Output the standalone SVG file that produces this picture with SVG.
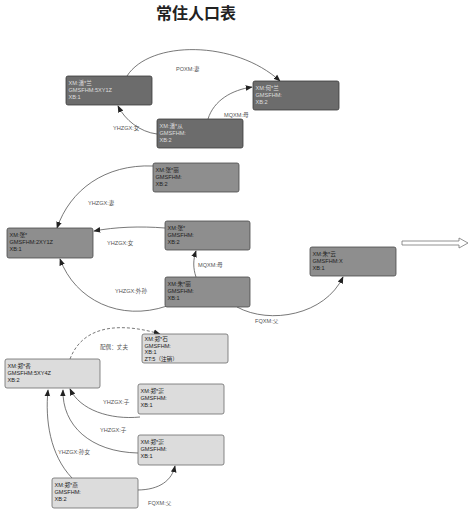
<svg xmlns="http://www.w3.org/2000/svg" width="474" height="512" viewBox="0 0 474 512">
<style>
.t{font-family:"Liberation Sans","Noto Sans CJK SC",sans-serif;font-size:5.6px;fill:#222}
.td{font-family:"Liberation Sans","Noto Sans CJK SC",sans-serif;font-size:5.6px;fill:#ddd}
.lb{font-family:"Liberation Sans","Noto Sans CJK SC",sans-serif;font-size:5.6px;fill:#555}
.dk{fill:#6c6c6c;stroke:#3a3a3a;stroke-width:0.8}
.md{fill:#8e8e8e;stroke:#4a4a4a;stroke-width:0.8}
.lt{fill:#dcdcdc;stroke:#6a6a6a;stroke-width:0.8}
.c{fill:none;stroke:#555;stroke-width:0.8;marker-end:url(#ah)}
.cd{fill:none;stroke:#555;stroke-width:0.8;stroke-dasharray:3,2;marker-end:url(#ah)}
</style>
<defs>
<marker id="ah" viewBox="0 0 10 10" refX="9" refY="5" markerWidth="7" markerHeight="7" orient="auto" markerUnits="userSpaceOnUse">
<path d="M0,1 L10,5 L0,9 z" fill="#222"/>
</marker>
</defs>
<rect width="474" height="512" fill="#fff"/>
<text x="196" y="19" text-anchor="middle" style="font-family:'Noto Sans CJK SC',sans-serif;font-size:16px;font-weight:bold;fill:#222">常住人口表</text>

<g id="connectors">
<path class="c" d="M127,76 C150,40 235,40 280,81"/>
<path class="c" d="M208,119 C214,100 232,90 252,87"/>
<path class="c" d="M157,134 C140,132 125,120 118,106"/>
<path class="c" d="M153,166 C105,164 70,190 57,228"/>
<path class="c" d="M165,228 C140,226 115,227 94,231"/>
<path class="c" d="M196,277 C193,268 193,260 196,251"/>
<path class="c" d="M167,306 C120,322 75,300 60,259"/>
<path class="c" d="M237,307 C270,325 325,315 343,277"/>
<path class="cd" d="M70,359 C85,320 130,325 160,334"/>
<path class="c" d="M140,417 C110,420 80,410 70,389"/>
<path class="c" d="M138,453 C90,452 62,425 63,390"/>
<path class="c" d="M72,478 C50,455 45,420 48,390"/>
<path class="c" d="M137,490 C160,490 172,480 175,466"/>
</g>

<g id="labels">
<text class="lb" x="176" y="71">POXM:妻</text>
<text class="lb" x="224" y="117">MQXM:母</text>
<text class="lb" x="113" y="130">YHZGX:女</text>
<text class="lb" x="88" y="205">YHZGX:妻</text>
<text class="lb" x="107" y="245">YHZGX:女</text>
<text class="lb" x="198" y="267">MQXM:母</text>
<text class="lb" x="115" y="293">YHZGX:外孙</text>
<text class="lb" x="255" y="323">FQXM:父</text>
<text class="lb" x="100" y="349">配偶：丈夫</text>
<text class="lb" x="103" y="404">YHZGX:子</text>
<text class="lb" x="100" y="432">YHZGX:子</text>
<text class="lb" x="58" y="454">YHZGX:孙女</text>
<text class="lb" x="148" y="505">FQXM:父</text>
</g>

<g id="nA"><rect class="dk" x="66" y="76" width="86" height="29" rx="2"/>
<text class="td" x="68.5" y="85">XM:潘*兰</text><text class="td" x="68.5" y="92">GMSFHM:5XY1Z</text><text class="td" x="68.5" y="99">XB:1</text></g>
<g id="nB"><rect class="dk" x="253" y="81" width="86" height="29" rx="2"/>
<text class="td" x="255.5" y="90">XM:何*兰</text><text class="td" x="255.5" y="97">GMSFHM:</text><text class="td" x="255.5" y="104">XB:2</text></g>
<g id="nC"><rect class="dk" x="157" y="119" width="86" height="29" rx="2"/>
<text class="td" x="159.5" y="128">XM:潘*从</text><text class="td" x="159.5" y="135">GMSFHM:</text><text class="td" x="159.5" y="142">XB:2</text></g>

<g id="nD"><rect class="md" x="153" y="163" width="86" height="29" rx="2"/>
<text class="t" x="155.5" y="172">XM:张*丽</text><text class="t" x="155.5" y="179">GMSFHM:</text><text class="t" x="155.5" y="186">XB:2</text></g>
<g id="nE"><rect class="md" x="7" y="228" width="86" height="30" rx="2"/>
<text class="t" x="9.5" y="237">XM:张*</text><text class="t" x="9.5" y="244">GMSFHM:2XY1Z</text><text class="t" x="9.5" y="251">XB:1</text></g>
<g id="nF"><rect class="md" x="165" y="221" width="85" height="29" rx="2"/>
<text class="t" x="167.5" y="230">XM:张*</text><text class="t" x="167.5" y="237">GMSFHM:</text><text class="t" x="167.5" y="244">XB:2</text></g>
<g id="nG"><rect class="md" x="165" y="277" width="85" height="30" rx="2"/>
<text class="t" x="167.5" y="286">XM:朱*丽</text><text class="t" x="167.5" y="293">GMSFHM:</text><text class="t" x="167.5" y="300">XB:1</text></g>
<g id="nH"><rect class="md" x="310" y="247" width="86" height="29" rx="2"/>
<text class="t" x="312.5" y="256">XM:朱*云</text><text class="t" x="312.5" y="263">GMSFHM:X</text><text class="t" x="312.5" y="270">XB:1</text></g>

<g id="bigArrow"><path d="M402,241 L459,241 L459,238 L468,243 L459,248 L459,245 L402,245 z" fill="#fff" stroke="#777" stroke-width="0.8"/></g>

<g id="nI"><rect class="lt" x="5" y="359" width="95" height="29" rx="2"/>
<text class="t" x="7.5" y="368">XM:郑*香</text><text class="t" x="7.5" y="375">GMSFHM:5XY4Z</text><text class="t" x="7.5" y="382">XB:2</text></g>
<g id="nJ"><rect class="lt" x="142" y="334" width="86" height="29" rx="2"/>
<text class="t" x="144.5" y="341">XM:郑*石</text><text class="t" x="144.5" y="347.5">GMSFHM:</text><text class="t" x="144.5" y="354">XB:1</text><text class="t" x="144.5" y="360.5">ZT:5（注销）</text></g>
<g id="nK"><rect class="lt" x="138" y="384" width="86" height="30" rx="2"/>
<text class="t" x="140.5" y="393">XM:郑*崇</text><text class="t" x="140.5" y="400">GMSFHM:</text><text class="t" x="140.5" y="407">XB:1</text></g>
<g id="nL"><rect class="lt" x="138" y="435" width="86" height="30" rx="2"/>
<text class="t" x="140.5" y="444">XM:郑*崇</text><text class="t" x="140.5" y="451">GMSFHM:</text><text class="t" x="140.5" y="458">XB:1</text></g>
<g id="nM"><rect class="lt" x="52" y="478" width="86" height="30" rx="2"/>
<text class="t" x="54.5" y="487">XM:郑*燕</text><text class="t" x="54.5" y="494">GMSFHM:</text><text class="t" x="54.5" y="501">XB:2</text></g>
</svg>
